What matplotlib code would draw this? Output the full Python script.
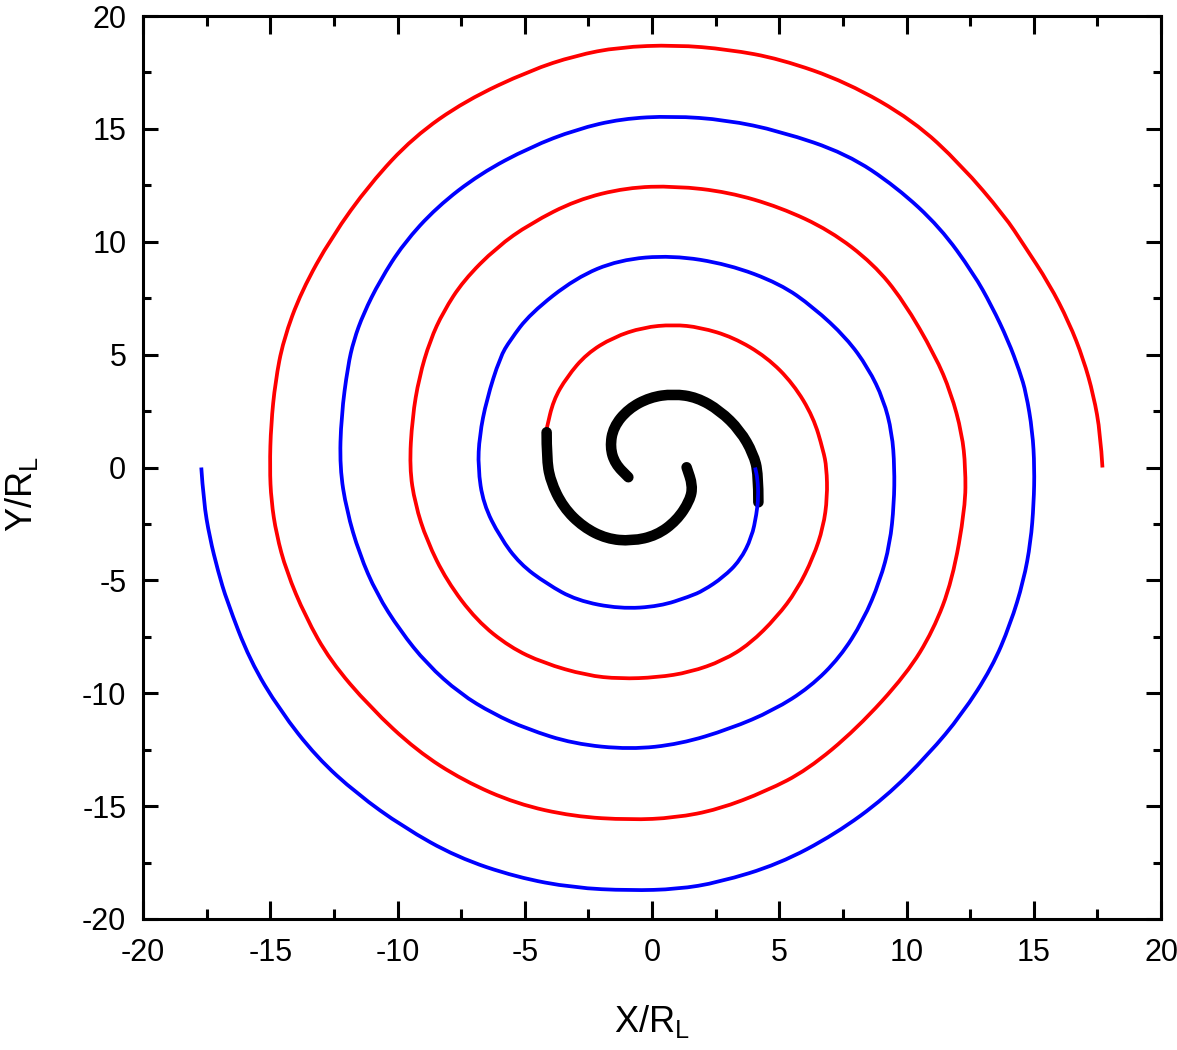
import matplotlib
matplotlib.use("Agg")
import matplotlib.pyplot as plt
from matplotlib.path import Path
from matplotlib.patches import PathPatch
from matplotlib.ticker import MultipleLocator

plt.rcParams['font.family'] = ['Liberation Sans', 'DejaVu Sans']
plt.rcParams['mathtext.fontset'] = 'custom'
plt.rcParams['mathtext.rm'] = 'Liberation Sans'
plt.rcParams['axes.unicode_minus'] = False

# red arm (outer end -> inner end)
red_x = [17.70, 17.62, 17.35, 16.95, 16.39, 15.60, 14.62, 13.85, 12.15, 10.27, 7.65, 5.03, 3.00, 0.92,
         -1.30, -3.00, -4.79, -7.33, -9.38, -11.08, -12.59, -13.78, -14.49, -14.80, -14.97, -15.02,
         -14.96, -14.76, -14.37, -13.62, -12.65, -11.08, -9.25, -7.41, -5.32, -3.09, -0.86, 0.90,
         2.60, 4.50, 6.10, 8.04, 10.01, 11.05, 11.80, 12.31, 12.32,
         12.18, 11.75, 11.13, 9.87, 8.70, 6.99, 5.03, 3.00, 0.92, -1.00, -2.97, -4.79, -6.10, -7.41,
         -8.20, -8.72, -9.15, -9.42, -9.53,
         -9.31, -8.85, -8.07, -6.89, -5.58, -4.27, -2.57, -1.26, 0.20, 1.49, 2.80, 3.85, 4.90, 5.69,
         6.34, 6.73, 6.89, 6.86,
         6.73, 6.34, 5.55, 4.51, 3.19, 1.89, 0.84, -0.34, -1.52, -2.57, -3.35, -3.88, -4.14]
red_y = [0.00, 1.50, 3.20, 4.80, 6.42, 8.15, 9.84, 11.15, 13.40, 15.37, 17.07, 18.10, 18.52, 18.72,
         18.62, 18.25, 17.59, 16.25, 14.63, 12.57, 10.21, 7.80, 5.63, 3.80, 1.90, 0.00,
         -1.48, -2.95, -4.58, -6.60, -8.55, -10.62, -12.54, -13.87, -14.90, -15.46, -15.61, -15.52,
         -15.15, -14.33, -13.40, -11.58, -9.14, -7.22, -5.01, -1.77, 0.00,
         1.50, 3.30, 4.95, 7.40, 9.02, 10.50, 11.53, 12.20, 12.47, 12.40, 11.85, 10.80, 9.76, 8.28,
         6.90, 5.63, 4.00, 2.20, 0.00,
         -1.61, -3.23, -5.01, -6.78, -7.96, -8.66, -9.21, -9.36, -9.30, -9.07, -8.55, -7.81, -6.63, -5.45,
         -3.97, -2.64, -1.32, 0.00,
         0.75, 2.23, 3.71, 4.89, 5.77, 6.21, 6.33, 6.21, 5.77, 5.04, 4.00, 2.97, 1.71]

# blue arm (outer end -> inner end)
blue_x = [-17.71, -17.62, -17.38, -17.05, -16.71, -15.80, -14.62, -13.18, -11.60, -9.77, -7.67, -5.32,
          -3.09, -0.86, 1.00, 2.62, 4.98, 7.20, 9.17, 10.87, 12.18, 13.36, 14.08, 14.60, 14.88, 15.00, 15.03,
          14.95, 14.70, 14.45, 13.99, 13.35, 12.64, 11.32, 9.61, 7.65, 5.03, 2.90, 0.80, -1.20, -2.97,
          -4.79, -6.76, -8.46, -9.77, -10.69, -11.34, -11.72, -11.95, -12.21, -12.27,
          -12.00, -11.50, -10.82, -9.90, -8.85, -7.54, -6.24, -4.92, -3.09, -0.86, 1.10, 3.06, 4.77,
          6.21, 7.39, 8.30, 8.96, 9.35, 9.51, 9.53,
          9.43, 9.10, 8.50, 7.64, 6.34, 5.03, 3.00, 0.79, -1.30, -3.00, -4.79, -5.58, -5.97, -6.50,
          -6.78, -6.84,
          -6.63, -5.97, -5.19, -4.14, -2.96, -1.26, 0.30, 1.49, 2.02, 2.80, 3.46, 3.92, 4.11, 4.18,
          4.15, 4.05]
blue_y = [0.00, -1.50, -3.10, -4.60, -5.89, -8.55, -10.76, -12.83, -14.45, -15.93, -17.26, -18.15,
          -18.62, -18.74, -18.68, -18.38, -17.57, -16.24, -14.62, -12.70, -10.93, -8.86, -6.94, -5.02,
          -3.30, -1.60, 0.00,
          1.60, 3.30, 4.25, 5.63, 7.15, 8.58, 10.64, 12.42, 13.90, 14.90, 15.40, 15.57, 15.45, 14.98,
          14.19, 13.01, 11.53, 9.91, 8.28, 6.81, 5.63, 4.50, 2.28, 0.00,
          -1.90, -3.82, -5.59, -7.22, -8.70, -10.02, -10.91, -11.58, -12.24, -12.49, -12.25, -11.58,
          -10.76, -9.73, -8.40, -6.78, -5.01, -3.38, -1.61, 0.00,
          1.54, 3.00, 4.40, 5.74, 7.10, 8.14, 9.00, 9.40, 9.20, 8.40, 6.81, 5.63, 4.89, 3.00,
          1.40, 0.00,
          -1.61, -3.09, -4.27, -5.15, -5.89, -6.26, -6.15, -5.71, -5.45, -4.86, -4.12, -3.09, -2.05,
          -1.30, -0.50, 0.00]

# thick black core, two pieces
core1_x = [-4.14, -4.14, -4.00, -3.49, -2.70, -1.78, -0.80, 0.18, 0.97, 1.49, 1.60, 1.36]
core1_y = [1.56, 0.46, -0.58, -1.76, -2.64, -3.16, -3.26, -3.01, -2.35, -1.46, -0.80, 0.01]
core2_x = [4.18, 4.18, 3.98, 3.46, 2.67, 1.76, 0.84, -0.08, -0.93, -1.52, -1.65, -1.45, -0.93]
core2_y = [-1.54, -0.28, 0.61, 1.64, 2.52, 3.11, 3.26, 3.11, 2.60, 1.79, 0.90, 0.16, -0.43]


def smooth_curve(ax, xs, ys, **kw):
    # quadratic bezier through the chord midpoints, read points act as control points
    pts = list(zip(xs, ys))
    verts = [pts[0]]
    codes = [Path.MOVETO]
    for i in range(1, len(pts) - 1):
        mid = ((pts[i][0] + pts[i + 1][0]) / 2, (pts[i][1] + pts[i + 1][1]) / 2)
        verts += [pts[i], mid]
        codes += [Path.CURVE3, Path.CURVE3]
    verts.append(pts[-1])
    codes.append(Path.LINETO)
    ax.add_patch(PathPatch(Path(verts, codes), fill=False, **kw))


fig = plt.figure(figsize=(11.77, 10.5), dpi=100)
ax = fig.add_axes([143 / 1177, 131 / 1050, 1018 / 1177, 903 / 1050])

smooth_curve(ax, red_x, red_y, edgecolor='#ff0000', lw=2.7, joinstyle='round', zorder=2)
smooth_curve(ax, core1_x, core1_y, edgecolor='black', lw=7.6, capstyle='round', joinstyle='round', zorder=3)
smooth_curve(ax, core2_x, core2_y, edgecolor='black', lw=7.6, capstyle='round', joinstyle='round', zorder=3)
smooth_curve(ax, blue_x, blue_y, edgecolor='#0000ff', lw=2.7, joinstyle='round', zorder=4)

ax.set_xlim(-20, 20)
ax.set_ylim(-20, 20)
ax.xaxis.set_major_locator(MultipleLocator(5))
ax.xaxis.set_minor_locator(MultipleLocator(2.5))
ax.yaxis.set_major_locator(MultipleLocator(5))
ax.yaxis.set_minor_locator(MultipleLocator(2.5))

ax.tick_params(which='both', direction='in', top=True, right=True, width=2.2, colors='black')
ax.tick_params(axis='x', which='major', length=13, pad=14, labelsize=22)
ax.tick_params(axis='x', which='minor', length=7)
ax.tick_params(axis='y', which='major', length=10.5, pad=12, labelsize=22)
ax.tick_params(axis='y', which='minor', length=5.8)
for sp in ax.spines.values():
    sp.set_linewidth(2.2)

fig.text(652 / 1177, 1 - 1022 / 1050, r'X/R$_\mathrm{L}$', ha='center', va='center', fontsize=26)
fig.text(22 / 1177, 1 - 494 / 1050, r'Y/R$_\mathrm{L}$', ha='center', va='center',
         rotation=90, fontsize=26)

fig.savefig('out.png', dpi=100)
